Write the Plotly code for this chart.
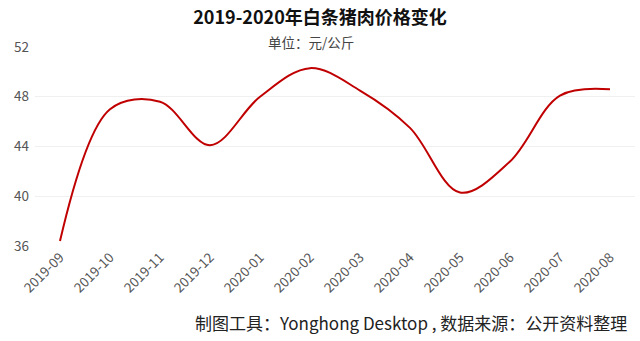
import plotly.graph_objects as go

months = ["2019-09", "2019-10", "2019-11", "2019-12", "2020-01", "2020-02",
          "2020-03", "2020-04", "2020-05", "2020-06", "2020-07", "2020-08"]
prices = [36.4, 47.0, 47.6, 44.1, 48.0, 50.3, 48.5, 45.5, 40.3, 42.8, 48.1, 48.6]
y_ticks = [36, 40, 44, 48, 52]

font_family = "Noto Sans CJK SC, Noto Sans, sans-serif"

W, H = 640, 341
ML, MR, MT, MB = 35, 5, 47, 95
H_plot = H - MT - MB
W_plot = W - ML - MR


def px_x(x):
    return (x - ML) / W_plot


def px_y(y):
    return (H - MB - y) / H_plot


fig = go.Figure(go.Scatter(
    x=months, y=prices, mode="lines",
    line=dict(color="#c00000", width=2, shape="spline", smoothing=1.0),
))

fig.update_layout(
    width=W, height=H,
    margin=dict(l=ML, r=MR, t=MT, b=MB),
    paper_bgcolor="white", plot_bgcolor="white",
    font=dict(family=font_family, color="#444"),
    showlegend=False,
    title=dict(text="<b>2019-2020年白条猪肉价格变化</b>", x=0.5, xanchor="center",
               y=1 - 18 / H, yanchor="middle", font=dict(size=18, color="#111")),
    annotations=[
        dict(text="单位：元/公斤", x=px_x(311), y=px_y(42), xref="paper", yref="paper",
             showarrow=False, font=dict(size=13.5, color="#444"), yanchor="middle"),
        dict(text="制图工具：Yonghong Desktop , 数据来源：公开资料整理", x=px_x(629), y=px_y(322),
             xref="paper", yref="paper", showarrow=False, xanchor="right",
             yanchor="middle", font=dict(size=17, color="#222")),
    ],
    xaxis=dict(type="category", tickangle=-45, tickfont=dict(size=13.5, color="#555"),
               showgrid=False, showline=False, ticks="", range=[-0.5, 11.5]),
    yaxis=dict(range=[36, 52], tickvals=y_ticks, showgrid=True, gridcolor="#f0f0f0",
               zeroline=False, tickfont=dict(size=13.5, color="#555"), ticks="",
               ticklabelstandoff=5),
)

fig.write_html("out.html")
